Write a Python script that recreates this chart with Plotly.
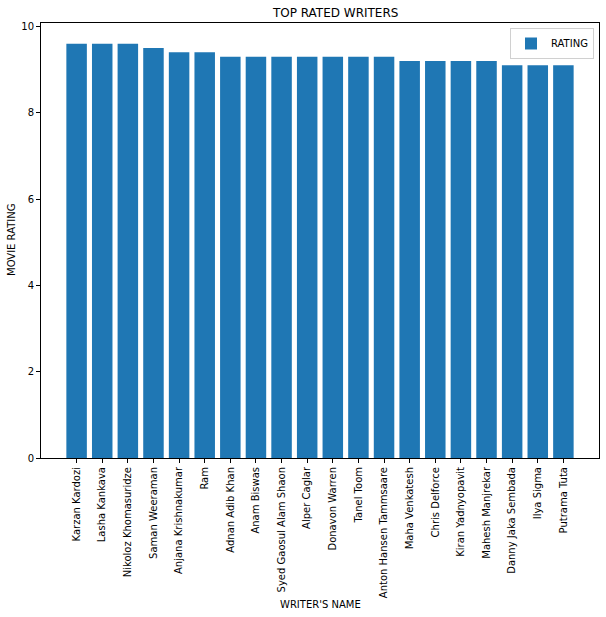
import plotly.graph_objects as go

writers = ["Karzan Kardozi", "Lasha Kankava", "Nikoloz Khomasuridze", "Saman Weeraman",
           "Anjana Krishnakumar", "Ram", "Adnan Adib Khan", "Anam Biswas",
           "Syed Gaosul Alam Shaon", "Alper Caglar", "Donavon Warren", "Tanel Toom",
           "Anton Hansen Tammsaare", "Maha Venkatesh", "Chris Delforce", "Kiran Yadnyopavit",
           "Mahesh Manjrekar", "Danny Jaka Sembada", "Ilya Sigma", "Putrama Tuta"]
ratings = [9.6, 9.6, 9.6, 9.5, 9.4, 9.4, 9.3, 9.3, 9.3, 9.3, 9.3, 9.3, 9.3,
           9.2, 9.2, 9.2, 9.2, 9.1, 9.1, 9.1]
y_ticks = [0, 2, 4, 6, 8, 10]

W, H = 606, 617
L, R, T, B = 41, 7, 23, 159
PW, PH = W - L - R, H - T - B

fig = go.Figure()
fig.add_trace(go.Bar(x=list(range(len(writers))), y=ratings, name="RATING",
                     marker=dict(color="#1f77b4", line=dict(width=0)), width=0.8,
                     showlegend=True))

fig.update_layout(
    width=W, height=H,
    margin=dict(l=L, r=R, t=T, b=B, autoexpand=False),
    paper_bgcolor="white", plot_bgcolor="white",
    font=dict(family="DejaVu Sans", size=10, color="black"),
    title=dict(text="TOP RATED WRITERS", x=(L + (W - R)) / 2 / W, xanchor="center", xref="paper",
               y=1 - 13 / H, yanchor="middle", font=dict(size=12)),
    showlegend=True,
    legend=dict(x=(594 - L) / PW, xanchor="right", y=(H - B - 28) / PH, yanchor="top",
                bordercolor="#d0d0d0", borderwidth=1, bgcolor="white",
                font=dict(size=10), itemsizing="constant", itemwidth=30),
    annotations=[
        dict(text="WRITER'S NAME", xref="paper", yref="paper", x=0.5,
             y=-(604 - (H - B)) / PH, xanchor="center", yanchor="middle",
             showarrow=False, font=dict(size=10)),
        dict(text="MOVIE RATING", xref="paper", yref="paper", x=-(L - 11) / PW,
             y=(H - B - 240) / PH, xanchor="center", yanchor="middle",
             textangle=-90, showarrow=False, font=dict(size=10)),
    ],
)
fig.update_xaxes(
    range=[-1.39, 20.39], tickmode="array", tickvals=list(range(len(writers))),
    ticktext=writers, tickangle=-90, showgrid=False, zeroline=False, automargin=False,
    showline=True, linecolor="black", linewidth=1, mirror=True,
    ticks="outside", ticklen=4, tickcolor="black", tickfont=dict(size=10),
)
fig.update_yaxes(
    range=[0, 10.08], tickmode="array", tickvals=y_ticks,
    showgrid=False, zeroline=False, automargin=False,
    showline=True, linecolor="black", linewidth=1, mirror=True,
    ticks="outside", ticklen=4, tickcolor="black", tickfont=dict(size=10),
)

fig.write_html("out.html", config={"displayModeBar": False},
               post_script="document.body.style.margin='0';document.body.style.padding='0';")
